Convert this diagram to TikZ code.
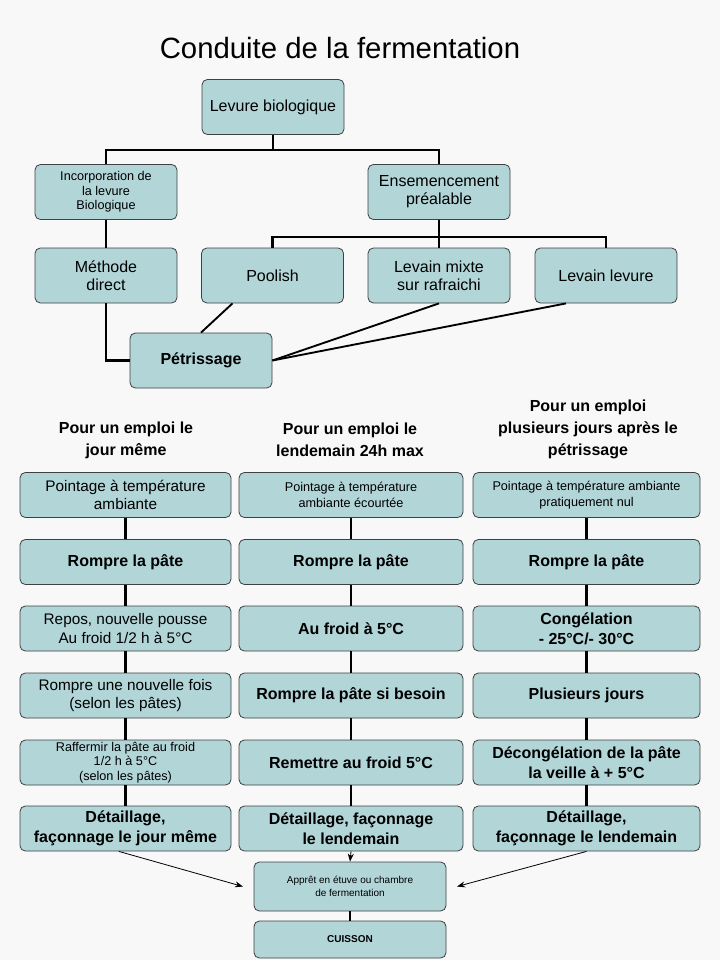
\documentclass[tikz,border=0pt]{standalone}
\usepackage{fontspec}
\setmainfont{Liberation Sans}
\usetikzlibrary{arrows.meta}
\definecolor{boxfill}{HTML}{B2D5D8}
\definecolor{bg}{HTML}{F8F8F8}
\begin{document}
\begin{tikzpicture}[x=0.75pt,y=-0.75pt,
  bx/.style={draw=black!75,fill=boxfill,rounded corners=4pt,align=center,inner sep=1pt,line width=0.6pt},
  top/.style={bx,minimum width=106.5pt,minimum height=41.25pt,font=\fontsize{12}{13.5}\selectfont},
  c1/.style={bx,minimum width=158.25pt,minimum height=33.75pt},
  c2/.style={bx,minimum width=168pt,minimum height=33.75pt},
  c3/.style={bx,minimum width=170.25pt,minimum height=33.75pt},
  big/.style={font=\fontsize{12}{14}\selectfont\bfseries},
  med/.style={font=\fontsize{11.5}{14}\selectfont},
  sm/.style={font=\fontsize{9.5}{11.5}\selectfont},
  con/.style={line width=1.6pt,black},
  arr/.style={-{Stealth[length=6pt]},line width=0.6pt},
  hd/.style={align=center,font=\fontsize{12}{16.5}\selectfont\bfseries}]
\fill[bg] (0,0) rectangle (720,960);
\useasboundingbox (0,0) rectangle (720,960);
\node (title) at (340,48) {\fontsize{22}{24}\selectfont Conduite de la fermentation};
\node[top] (lev) at (273,107) {Levure biologique};
\node[top,font=\fontsize{9.5}{11}\selectfont] (inc) at (106,192) {Incorporation de\\la levure\\Biologique};
\node[top] (ens) at (439,192) {Ensemencement\\préalable};
\node[top] (met) at (106,275.5) {Méthode\\direct};
\node[top] (poo) at (272.5,275.5) {Poolish};
\node[top] (lmx) at (439,275.5) {Levain mixte\\sur rafraichi};
\node[top] (llv) at (606,275.5) {Levain levure};
\node[top,font=\fontsize{12}{13.5}\selectfont\bfseries] (pet) at (201,360.5) {Pétrissage};
\draw[con] (lev.south) -- ++(0,15) coordinate (j1);
\draw[con] (inc.north) |- (j1) -| (ens.north);
\draw[con] (inc) -- (met);
\draw[con] (ens.south) -- ++(0,17) coordinate (j2);
\draw[con] (poo.north) |- (j2) -| (llv.north);
\draw[con] (ens) -- (lmx);
\draw[con] (met.south) |- (pet.west);
\draw[line width=1.4pt] ([xshift=-30]poo.south) -- (pet.north);
\draw[line width=1.4pt] (lmx.south) -- (pet.east);
\draw[line width=1.4pt] ([xshift=-30]llv.south) -- (pet.east);
\node[hd] (h1) at (126,440) {Pour un emploi le\\jour même};
\node[hd] (h2) at (350,440) {Pour un emploi le\\lendemain 24h max};
\node[hd] (h3) at (588,429) {Pour un emploi\\plusieurs jours après le\\pétrissage};
% column 1
\node[c1,med] (a1) at (125.5,495) {Pointage à température\\ambiante};
\node[c1,big] (a2) at (125.5,562) {Rompre la pâte};
\node[c1,med] (a3) at (125.5,628.5) {Repos, nouvelle pousse\\Au froid 1/2 h à 5°C};
\node[c1,med] (a4) at (125.5,695.5) {Rompre une nouvelle fois\\(selon les pâtes)};
\node[c1,font=\fontsize{9.5}{11}\selectfont] (a5) at (125.5,762.5) {Raffermir la pâte au froid\\1/2 h à 5°C\\(selon les pâtes)};
\node[c1,font=\fontsize{12}{15}\selectfont\bfseries] (a6) at (125.5,828.5) {Détaillage,\\façonnage le jour même};
% column 2
\node[c2,sm] (b1) at (351,495) {Pointage à température\\ambiante écourtée};
\node[c2,big] (b2) at (351,562) {Rompre la pâte};
\node[c2,big] (b3) at (351,628.5) {Au froid à 5°C};
\node[c2,big] (b4) at (351,695.5) {Rompre la pâte si besoin};
\node[c2,big] (b5) at (351,762.5) {Remettre au froid 5°C};
\node[c2,font=\fontsize{12}{15}\selectfont\bfseries] (b6) at (351,828.5) {Détaillage, façonnage\\le lendemain};
% column 3
\node[c3,sm] (d1) at (586.5,495) {Pointage à température ambiante\\pratiquement nul};
\node[c3,big] (d2) at (586.5,562) {Rompre la pâte};
\node[c3,font=\fontsize{12}{15}\selectfont\bfseries] (d3) at (586.5,628.5) {Congélation\\- 25°C/- 30°C};
\node[c3,big] (d4) at (586.5,695.5) {Plusieurs jours};
\node[c3,font=\fontsize{12}{15}\selectfont\bfseries] (d5) at (586.5,762.5) {Décongélation de la pâte\\la veille à + 5°C};
\node[c3,font=\fontsize{12}{15}\selectfont\bfseries] (d6) at (586.5,828.5) {Détaillage,\\façonnage le lendemain};
\foreach \c in {a,b,d}{
  \draw[con] (\c1) -- (\c2); \draw[con] (\c2) -- (\c3); \draw[con] (\c3) -- (\c4);
  \draw[con] (\c4) -- (\c5); \draw[con] (\c5) -- (\c6);}
\node[bx,minimum width=144pt,minimum height=36.75pt,font=\fontsize{7.5}{9.5}\selectfont] (app) at (350,886.5) {Apprêt en étuve ou chambre\\de fermentation};
\node[bx,minimum width=144pt,minimum height=27.75pt,font=\fontsize{7.5}{9}\selectfont\bfseries] (cui) at (350,939.5) {CUISSON};
\draw[con] (app) -- (cui);
\draw[arr] ([xshift=-5]a6.south) -- ([xshift=-8]app.west);
\draw[arr] (b6.south) -- (app.north);
\draw[arr] (d6.south) -- ([xshift=8]app.east);
\end{tikzpicture}
\end{document}
